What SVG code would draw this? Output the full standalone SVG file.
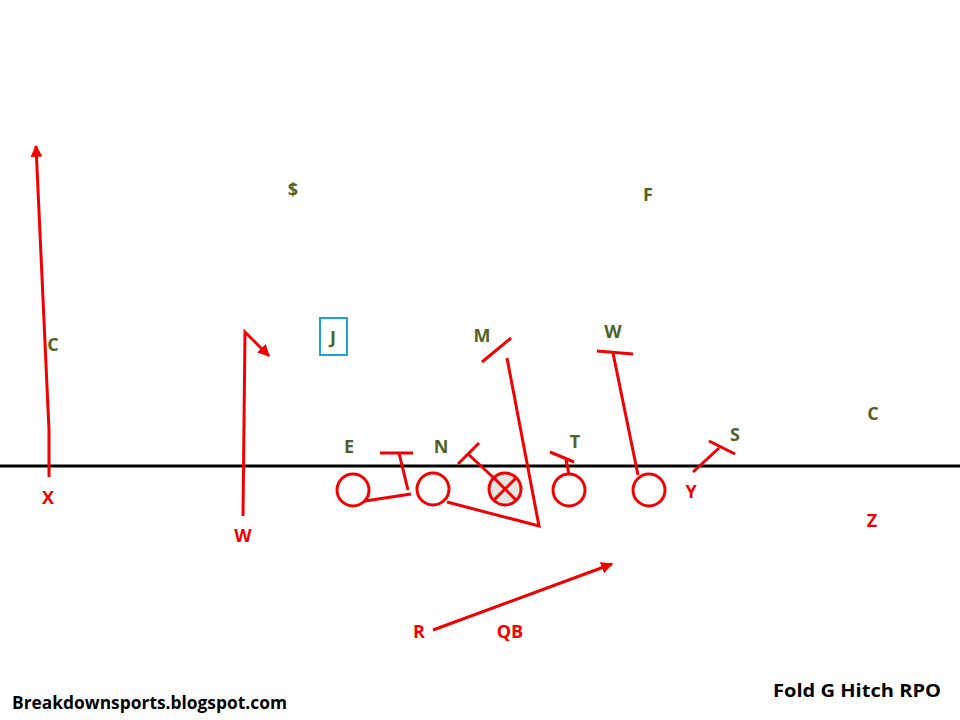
<svg xmlns="http://www.w3.org/2000/svg" width="960" height="720" viewBox="0 0 960 720">
<defs>
<style>
.r{stroke:#f00000;stroke-width:3;fill:none;stroke-linecap:butt}
.p{stroke:#f00000;stroke-width:3;fill:#fff}
.d{font-family:"Open Sans","Liberation Sans",sans-serif;font-weight:bold;font-size:18px;fill:#4f6228;text-anchor:middle}
.o{font-family:"Open Sans","Liberation Sans",sans-serif;font-weight:bold;font-size:18px;fill:#f00000;text-anchor:middle}
.t{font-family:"Open Sans","Liberation Sans",sans-serif;font-weight:bold;font-size:17px;fill:#000}
</style>
<marker id="ah" viewBox="0 0 10 10" refX="9" refY="5" markerWidth="4" markerHeight="4" orient="auto" markerUnits="strokeWidth">
<path d="M0,0 L10,5 L0,10 z" fill="#f00000"/>
</marker>
</defs>
<rect width="960" height="720" fill="#fff"/>
<line x1="0" y1="466" x2="960" y2="466" stroke="#000" stroke-width="3"/>
<g id="connectors">
<polyline class="r" points="49,477 49,430 36,146" marker-end="url(#ah)"/>
<polyline class="r" points="243,516 245,332 269,356" marker-end="url(#ah)"/>
<line class="r" x1="433" y1="630" x2="612" y2="564" marker-end="url(#ah)"/>
<line class="r" x1="365" y1="501" x2="411" y2="494"/>
<line class="r" x1="408" y1="490" x2="399" y2="453"/>
<line class="r" x1="380" y1="453" x2="413" y2="453"/>
<line class="r" x1="458" y1="464" x2="479" y2="443"/>
<line class="r" x1="468" y1="454" x2="495" y2="479"/>
<polyline class="r" points="447,502 539,526 507,358"/>
<line class="r" x1="482" y1="362" x2="511" y2="338"/>
<line class="r" x1="550" y1="452" x2="574" y2="462"/>
<line class="r" x1="566" y1="460" x2="569" y2="474"/>
<line class="r" x1="613" y1="353" x2="638" y2="475"/>
<line class="r" x1="597" y1="351" x2="633" y2="354"/>
<line class="r" x1="693" y1="472" x2="719" y2="448"/>
<line class="r" x1="709" y1="441" x2="735" y2="454"/>
</g>
<g id="lg"><circle class="p" cx="353" cy="490" r="16"/></g>
<g id="lt"><circle class="p" cx="433" cy="489" r="16"/></g>
<g id="center"><circle cx="505" cy="489" r="16" fill="#e8e4de" stroke="#f00000" stroke-width="3"/>
<line class="r" x1="494" y1="478" x2="516" y2="500"/><line class="r" x1="516" y1="478" x2="494" y2="500"/></g>
<g id="rg"><circle class="p" cx="569" cy="490" r="16"/></g>
<g id="rt"><circle class="p" cx="649" cy="490" r="16"/></g>
<g id="offense-labels">
<text class="o" x="48" y="504">X</text>
<text class="o" x="243" y="542">W</text>
<text class="o" x="691" y="498">Y</text>
<text class="o" x="872" y="527">Z</text>
<text class="o" x="419" y="638">R</text>
<text class="o" x="510" y="638">QB</text>
</g>
<g id="defense-labels">
<text class="d" x="53" y="351">C</text>
<text class="d" x="293" y="196">$</text>
<text class="d" x="648" y="201">F</text>
<rect x="320" y="318" width="27" height="37" fill="none" stroke="#1ba1dd" stroke-width="2"/>
<text class="d" x="333" y="344">J</text>
<text class="d" x="482" y="342">M</text>
<text class="d" x="613" y="338">W</text>
<text class="d" x="349" y="453">E</text>
<text class="d" x="441" y="453">N</text>
<text class="d" x="575" y="448">T</text>
<text class="d" x="735" y="441">S</text>
<text class="d" x="873" y="420">C</text>
</g>
<text class="t" x="12" y="709" textLength="275" lengthAdjust="spacingAndGlyphs">Breakdownsports.blogspot.com</text>
<text class="t" x="773" y="697" font-size="18" textLength="168" lengthAdjust="spacingAndGlyphs">Fold G Hitch RPO</text>
</svg>
